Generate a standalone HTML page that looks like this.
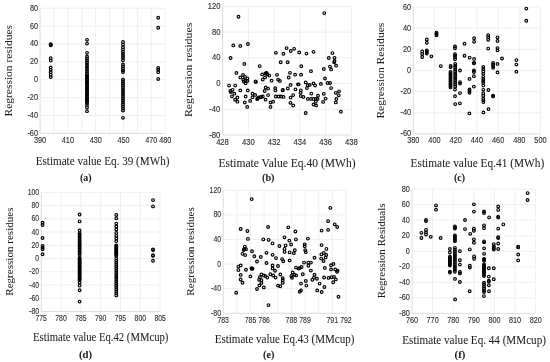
<!DOCTYPE html><html><head><meta charset="utf-8"><title>Regression residues</title><style>html,body{margin:0;padding:0;background:#fff;}svg{display:block;}.t{font-family:"Liberation Sans",Arial,sans-serif;font-size:8.2px;fill:#2e2e2e;stroke:#2e2e2e;stroke-width:0.12px;}.s{font-family:"Liberation Serif","Times New Roman",serif;fill:#1e1e1e;stroke:#1e1e1e;stroke-width:0.05px;}</style></head><body>
<svg width="550" height="362" viewBox="0 0 550 362">
<rect width="550" height="362" fill="#fff"/>
<path d="M54 8.2V133.4M67.9 8.2V133.4M81.8 8.2V133.4M95.7 8.2V133.4M109.6 8.2V133.4M123.5 8.2V133.4M137.4 8.2V133.4M151.3 8.2V133.4M165.2 8.2V133.4M40.1 115.51H165.2M40.1 97.63H165.2M40.1 79.74H165.2M40.1 61.86H165.2M40.1 43.97H165.2M40.1 26.09H165.2M40.1 8.2H165.2" stroke="#efefef" stroke-width="1" fill="none"/>
<path d="M40.1 8.2V133.4H165.2" stroke="#dddddd" stroke-width="1" fill="none"/>
<text class="t" x="38" y="135.9" text-anchor="end" textLength="10.61" lengthAdjust="spacingAndGlyphs">-60</text>
<text class="t" x="38" y="118.01" text-anchor="end" textLength="10.61" lengthAdjust="spacingAndGlyphs">-40</text>
<text class="t" x="38" y="100.13" text-anchor="end" textLength="10.61" lengthAdjust="spacingAndGlyphs">-20</text>
<text class="t" x="38" y="82.24" text-anchor="end" textLength="4.05" lengthAdjust="spacingAndGlyphs">0</text>
<text class="t" x="38" y="64.36" text-anchor="end" textLength="8.1" lengthAdjust="spacingAndGlyphs">20</text>
<text class="t" x="38" y="46.47" text-anchor="end" textLength="8.1" lengthAdjust="spacingAndGlyphs">40</text>
<text class="t" x="38" y="28.59" text-anchor="end" textLength="8.1" lengthAdjust="spacingAndGlyphs">60</text>
<text class="t" x="38" y="10.7" text-anchor="end" textLength="8.1" lengthAdjust="spacingAndGlyphs">80</text>
<text class="t" x="40.1" y="142.9" text-anchor="middle" textLength="12.15" lengthAdjust="spacingAndGlyphs">390</text>
<text class="t" x="67.9" y="142.9" text-anchor="middle" textLength="12.15" lengthAdjust="spacingAndGlyphs">410</text>
<text class="t" x="95.7" y="142.9" text-anchor="middle" textLength="12.15" lengthAdjust="spacingAndGlyphs">430</text>
<text class="t" x="123.5" y="142.9" text-anchor="middle" textLength="12.15" lengthAdjust="spacingAndGlyphs">450</text>
<text class="t" x="151.3" y="142.9" text-anchor="middle" textLength="12.15" lengthAdjust="spacingAndGlyphs">470</text>
<text class="t" x="165.2" y="142.9" text-anchor="middle" textLength="12.15" lengthAdjust="spacingAndGlyphs">480</text>
<text class="s" font-size="11.2" transform="translate(11.8 116.5) rotate(-90)" x="0" y="0" textLength="91.6" lengthAdjust="spacingAndGlyphs">Regression residues</text>
<text class="s" font-size="11.5" x="35.7" y="165" textLength="133.8" lengthAdjust="spacingAndGlyphs">Estimate value Eq. 39 (MWh)</text>
<text class="s" font-size="10.5" font-weight="bold" x="80" y="180.6" textLength="11.6" lengthAdjust="spacingAndGlyphs">(a)</text>
<g fill="none" stroke="#000" stroke-width="1.15"><circle cx="50.7" cy="44.2" r="1.35"/><circle cx="50.7" cy="44.7" r="1.35"/><circle cx="50.7" cy="45.2" r="1.35"/><circle cx="50.7" cy="58.2" r="1.35"/><circle cx="50.7" cy="60.6" r="1.35"/><circle cx="50.7" cy="67.4" r="1.35"/><circle cx="50.7" cy="69.8" r="1.35"/><circle cx="50.7" cy="72.2" r="1.35"/><circle cx="50.7" cy="74.6" r="1.35"/><circle cx="50.7" cy="77" r="1.35"/><circle cx="87" cy="39.8" r="1.35"/><circle cx="87" cy="43.6" r="1.35"/><circle cx="87" cy="52.8" r="1.35"/><circle cx="87" cy="56.5" r="1.35"/><circle cx="87" cy="58.4" r="1.35"/><circle cx="87" cy="60.3" r="1.35"/><circle cx="87" cy="62.2" r="1.35"/><circle cx="87" cy="64.1" r="1.35"/><circle cx="87" cy="66" r="1.35"/><circle cx="87" cy="67.9" r="1.35"/><circle cx="87" cy="69.8" r="1.35"/><circle cx="87" cy="71.7" r="1.35"/><circle cx="87" cy="73.6" r="1.35"/><circle cx="87" cy="75.5" r="1.35"/><circle cx="87" cy="76.5" r="1.35"/><circle cx="87" cy="77.7" r="1.35"/><circle cx="87" cy="78.91" r="1.35"/><circle cx="87" cy="80.11" r="1.35"/><circle cx="87" cy="81.32" r="1.35"/><circle cx="87" cy="82.52" r="1.35"/><circle cx="87" cy="83.73" r="1.35"/><circle cx="87" cy="84.93" r="1.35"/><circle cx="87" cy="86.14" r="1.35"/><circle cx="87" cy="87.34" r="1.35"/><circle cx="87" cy="88.55" r="1.35"/><circle cx="87" cy="89.75" r="1.35"/><circle cx="87" cy="90.95" r="1.35"/><circle cx="87" cy="92.16" r="1.35"/><circle cx="87" cy="93.36" r="1.35"/><circle cx="87" cy="94.57" r="1.35"/><circle cx="87" cy="95.77" r="1.35"/><circle cx="87" cy="96.98" r="1.35"/><circle cx="87" cy="98.18" r="1.35"/><circle cx="87" cy="99.39" r="1.35"/><circle cx="87" cy="100.59" r="1.35"/><circle cx="87" cy="101.8" r="1.35"/><circle cx="87" cy="103" r="1.35"/><circle cx="87" cy="105" r="1.35"/><circle cx="87" cy="107.5" r="1.35"/><circle cx="87" cy="111.2" r="1.35"/><circle cx="123" cy="41.9" r="1.35"/><circle cx="123" cy="44.6" r="1.35"/><circle cx="123" cy="47.2" r="1.35"/><circle cx="123" cy="49.6" r="1.35"/><circle cx="123" cy="51.8" r="1.35"/><circle cx="123" cy="53.9" r="1.35"/><circle cx="123" cy="55.9" r="1.35"/><circle cx="123" cy="57.8" r="1.35"/><circle cx="123" cy="60.2" r="1.35"/><circle cx="123" cy="64.4" r="1.35"/><circle cx="123" cy="66.4" r="1.35"/><circle cx="123" cy="68.4" r="1.35"/><circle cx="123" cy="70.4" r="1.35"/><circle cx="123" cy="72" r="1.35"/><circle cx="123" cy="79.3" r="1.35"/><circle cx="123" cy="81.25" r="1.35"/><circle cx="123" cy="83.2" r="1.35"/><circle cx="123" cy="85.15" r="1.35"/><circle cx="123" cy="87.1" r="1.35"/><circle cx="123" cy="89.05" r="1.35"/><circle cx="123" cy="91" r="1.35"/><circle cx="123" cy="92.95" r="1.35"/><circle cx="123" cy="94.9" r="1.35"/><circle cx="123" cy="96.85" r="1.35"/><circle cx="123" cy="98.8" r="1.35"/><circle cx="123" cy="100.75" r="1.35"/><circle cx="123" cy="102.7" r="1.35"/><circle cx="123" cy="104.65" r="1.35"/><circle cx="123" cy="106.6" r="1.35"/><circle cx="123" cy="108.55" r="1.35"/><circle cx="123" cy="110.5" r="1.35"/><circle cx="123" cy="117.8" r="1.35"/><circle cx="158.2" cy="17.7" r="1.35"/><circle cx="158.2" cy="27.7" r="1.35"/><circle cx="158.2" cy="67.9" r="1.35"/><circle cx="158.2" cy="69.8" r="1.35"/><circle cx="158.2" cy="72.2" r="1.35"/><circle cx="158.2" cy="79" r="1.35"/></g>
<path d="M248.28 6.4V135M274.06 6.4V135M299.84 6.4V135M325.62 6.4V135M351.4 6.4V135M222.5 109.28H351.4M222.5 83.56H351.4M222.5 57.84H351.4M222.5 32.12H351.4M222.5 6.4H351.4" stroke="#efefef" stroke-width="1" fill="none"/>
<path d="M222.5 6.4V135H351.4" stroke="#dddddd" stroke-width="1" fill="none"/>
<text class="t" x="220.4" y="137.5" text-anchor="end" textLength="11.13" lengthAdjust="spacingAndGlyphs">-80</text>
<text class="t" x="220.4" y="111.78" text-anchor="end" textLength="11.13" lengthAdjust="spacingAndGlyphs">-40</text>
<text class="t" x="220.4" y="86.06" text-anchor="end" textLength="4.25" lengthAdjust="spacingAndGlyphs">0</text>
<text class="t" x="220.4" y="60.34" text-anchor="end" textLength="8.5" lengthAdjust="spacingAndGlyphs">40</text>
<text class="t" x="220.4" y="34.62" text-anchor="end" textLength="8.5" lengthAdjust="spacingAndGlyphs">80</text>
<text class="t" x="220.4" y="8.9" text-anchor="end" textLength="12.75" lengthAdjust="spacingAndGlyphs">120</text>
<text class="t" x="222.5" y="144.5" text-anchor="middle" textLength="12.75" lengthAdjust="spacingAndGlyphs">428</text>
<text class="t" x="248.28" y="144.5" text-anchor="middle" textLength="12.75" lengthAdjust="spacingAndGlyphs">430</text>
<text class="t" x="274.06" y="144.5" text-anchor="middle" textLength="12.75" lengthAdjust="spacingAndGlyphs">432</text>
<text class="t" x="299.84" y="144.5" text-anchor="middle" textLength="12.75" lengthAdjust="spacingAndGlyphs">434</text>
<text class="t" x="325.62" y="144.5" text-anchor="middle" textLength="12.75" lengthAdjust="spacingAndGlyphs">436</text>
<text class="t" x="351.4" y="144.5" text-anchor="middle" textLength="12.75" lengthAdjust="spacingAndGlyphs">438</text>
<text class="s" font-size="11.2" transform="translate(192 117.1) rotate(-90)" x="0" y="0" textLength="94.4" lengthAdjust="spacingAndGlyphs">Regression residues</text>
<text class="s" font-size="11.5" x="218.5" y="167.2" textLength="137.1" lengthAdjust="spacingAndGlyphs">Estimate Value Eq.40 (MWh)</text>
<text class="s" font-size="10.5" font-weight="bold" x="262" y="181" textLength="12.5" lengthAdjust="spacingAndGlyphs">(b)</text>
<g fill="none" stroke="#000" stroke-width="1.15"><circle cx="238.5" cy="16.7" r="1.35"/><circle cx="233.3" cy="45.4" r="1.35"/><circle cx="240.3" cy="45.9" r="1.35"/><circle cx="247.9" cy="44" r="1.35"/><circle cx="230.6" cy="58" r="1.35"/><circle cx="244.4" cy="63.9" r="1.35"/><circle cx="259.7" cy="66.1" r="1.35"/><circle cx="275.9" cy="52.8" r="1.35"/><circle cx="283.4" cy="53.7" r="1.35"/><circle cx="286.6" cy="48.1" r="1.35"/><circle cx="280.7" cy="62.2" r="1.35"/><circle cx="287.7" cy="62.2" r="1.35"/><circle cx="324.3" cy="13.1" r="1.35"/><circle cx="290.7" cy="51" r="1.35"/><circle cx="294.1" cy="48.8" r="1.35"/><circle cx="299.2" cy="52.4" r="1.35"/><circle cx="306.5" cy="53.6" r="1.35"/><circle cx="313.5" cy="51.8" r="1.35"/><circle cx="301.3" cy="66.2" r="1.35"/><circle cx="332.4" cy="53.1" r="1.35"/><circle cx="328.8" cy="58" r="1.35"/><circle cx="334.5" cy="57.8" r="1.35"/><circle cx="334.5" cy="61" r="1.35"/><circle cx="330" cy="66.6" r="1.35"/><circle cx="336.1" cy="65.7" r="1.35"/><circle cx="323.8" cy="69" r="1.35"/><circle cx="331.1" cy="69.4" r="1.35"/><circle cx="334.2" cy="62.3" r="1.35"/><circle cx="311" cy="71.2" r="1.35"/><circle cx="236.4" cy="72.9" r="1.35"/><circle cx="240.3" cy="77.4" r="1.35"/><circle cx="243" cy="75" r="1.35"/><circle cx="245" cy="76.8" r="1.35"/><circle cx="247.4" cy="78.5" r="1.35"/><circle cx="243.3" cy="79.7" r="1.35"/><circle cx="245.6" cy="80.9" r="1.35"/><circle cx="243.9" cy="81.5" r="1.35"/><circle cx="245.6" cy="83.3" r="1.35"/><circle cx="247.4" cy="80.9" r="1.35"/><circle cx="255.5" cy="81.5" r="1.35"/><circle cx="255.9" cy="81.9" r="1.35"/><circle cx="262.2" cy="74.4" r="1.35"/><circle cx="266" cy="73.2" r="1.35"/><circle cx="265.3" cy="73.6" r="1.35"/><circle cx="266.6" cy="72.8" r="1.35"/><circle cx="267.5" cy="74.4" r="1.35"/><circle cx="265.1" cy="77.4" r="1.35"/><circle cx="269.3" cy="75.6" r="1.35"/><circle cx="262.8" cy="79.5" r="1.35"/><circle cx="271.6" cy="80.7" r="1.35"/><circle cx="277" cy="74.8" r="1.35"/><circle cx="278.1" cy="79.7" r="1.35"/><circle cx="279.9" cy="80.9" r="1.35"/><circle cx="229.1" cy="85.6" r="1.35"/><circle cx="235.2" cy="85.6" r="1.35"/><circle cx="230.3" cy="91" r="1.35"/><circle cx="232.6" cy="89.8" r="1.35"/><circle cx="230.9" cy="92.1" r="1.35"/><circle cx="240.3" cy="90.4" r="1.35"/><circle cx="247.8" cy="90.4" r="1.35"/><circle cx="234.4" cy="93.7" r="1.35"/><circle cx="232" cy="96.3" r="1.35"/><circle cx="237.4" cy="97.5" r="1.35"/><circle cx="245.6" cy="96.5" r="1.35"/><circle cx="252.5" cy="93.7" r="1.35"/><circle cx="255.1" cy="94.9" r="1.35"/><circle cx="252.5" cy="97.2" r="1.35"/><circle cx="258.6" cy="97.5" r="1.35"/><circle cx="261" cy="96.9" r="1.35"/><circle cx="262.8" cy="96.5" r="1.35"/><circle cx="265.7" cy="87.4" r="1.35"/><circle cx="268.1" cy="88.6" r="1.35"/><circle cx="264.6" cy="91" r="1.35"/><circle cx="268.1" cy="95.1" r="1.35"/><circle cx="275.2" cy="88.2" r="1.35"/><circle cx="275.4" cy="90.4" r="1.35"/><circle cx="282.9" cy="90" r="1.35"/><circle cx="282.6" cy="90.3" r="1.35"/><circle cx="275.8" cy="96.5" r="1.35"/><circle cx="278.7" cy="96.5" r="1.35"/><circle cx="281.1" cy="96.5" r="1.35"/><circle cx="283.5" cy="96.9" r="1.35"/><circle cx="235.1" cy="99.7" r="1.35"/><circle cx="237.4" cy="101.7" r="1.35"/><circle cx="244.8" cy="102.5" r="1.35"/><circle cx="247.2" cy="106.9" r="1.35"/><circle cx="250.2" cy="100.9" r="1.35"/><circle cx="257.6" cy="98.5" r="1.35"/><circle cx="257.2" cy="99" r="1.35"/><circle cx="260.6" cy="97.3" r="1.35"/><circle cx="265.6" cy="99.7" r="1.35"/><circle cx="270.5" cy="102.5" r="1.35"/><circle cx="273.1" cy="101.7" r="1.35"/><circle cx="270.5" cy="106.9" r="1.35"/><circle cx="290" cy="72.8" r="1.35"/><circle cx="295.1" cy="74.7" r="1.35"/><circle cx="301.1" cy="74.7" r="1.35"/><circle cx="288.7" cy="77.5" r="1.35"/><circle cx="325" cy="78.5" r="1.35"/><circle cx="305.7" cy="82.4" r="1.35"/><circle cx="307.8" cy="85.2" r="1.35"/><circle cx="309.7" cy="84.9" r="1.35"/><circle cx="313.5" cy="83.4" r="1.35"/><circle cx="315.1" cy="85.5" r="1.35"/><circle cx="306.9" cy="88.1" r="1.35"/><circle cx="320.9" cy="83.9" r="1.35"/><circle cx="327.5" cy="83" r="1.35"/><circle cx="330.1" cy="83" r="1.35"/><circle cx="331.1" cy="88.1" r="1.35"/><circle cx="290.6" cy="84.9" r="1.35"/><circle cx="298" cy="84.3" r="1.35"/><circle cx="298.6" cy="84.3" r="1.35"/><circle cx="287.8" cy="88.5" r="1.35"/><circle cx="295.5" cy="89.4" r="1.35"/><circle cx="300.8" cy="90.3" r="1.35"/><circle cx="300.6" cy="92.8" r="1.35"/><circle cx="293.2" cy="95.1" r="1.35"/><circle cx="290.6" cy="97.6" r="1.35"/><circle cx="300.8" cy="96.1" r="1.35"/><circle cx="303.4" cy="97" r="1.35"/><circle cx="311.3" cy="93.6" r="1.35"/><circle cx="307.8" cy="98.9" r="1.35"/><circle cx="311" cy="98.9" r="1.35"/><circle cx="313.5" cy="98.9" r="1.35"/><circle cx="318" cy="95.7" r="1.35"/><circle cx="317.6" cy="98.9" r="1.35"/><circle cx="323.7" cy="93.8" r="1.35"/><circle cx="325.6" cy="98.6" r="1.35"/><circle cx="335.8" cy="92.8" r="1.35"/><circle cx="339" cy="91.3" r="1.35"/><circle cx="338.7" cy="95.3" r="1.35"/><circle cx="336.4" cy="98.9" r="1.35"/><circle cx="290.4" cy="102.8" r="1.35"/><circle cx="293.2" cy="105.4" r="1.35"/><circle cx="315.8" cy="99" r="1.35"/><circle cx="315.8" cy="101.5" r="1.35"/><circle cx="313.5" cy="104.5" r="1.35"/><circle cx="316.1" cy="105.4" r="1.35"/><circle cx="323.1" cy="101.9" r="1.35"/><circle cx="305.7" cy="113" r="1.35"/><circle cx="335.8" cy="102.4" r="1.35"/><circle cx="340.9" cy="111.7" r="1.35"/></g>
<path d="M434.5 7V133.9M455.7 7V133.9M476.9 7V133.9M498.1 7V133.9M519.3 7V133.9M540.5 7V133.9M413.3 112.75H540.5M413.3 91.6H540.5M413.3 70.45H540.5M413.3 49.3H540.5M413.3 28.15H540.5M413.3 7H540.5" stroke="#efefef" stroke-width="1" fill="none"/>
<path d="M413.3 7V133.9H540.5" stroke="#dddddd" stroke-width="1" fill="none"/>
<text class="t" x="411.2" y="136.4" text-anchor="end" textLength="10.74" lengthAdjust="spacingAndGlyphs">-60</text>
<text class="t" x="411.2" y="115.25" text-anchor="end" textLength="10.74" lengthAdjust="spacingAndGlyphs">-40</text>
<text class="t" x="411.2" y="94.1" text-anchor="end" textLength="10.74" lengthAdjust="spacingAndGlyphs">-20</text>
<text class="t" x="411.2" y="72.95" text-anchor="end" textLength="4.1" lengthAdjust="spacingAndGlyphs">0</text>
<text class="t" x="411.2" y="51.8" text-anchor="end" textLength="8.2" lengthAdjust="spacingAndGlyphs">20</text>
<text class="t" x="411.2" y="30.65" text-anchor="end" textLength="8.2" lengthAdjust="spacingAndGlyphs">40</text>
<text class="t" x="411.2" y="9.5" text-anchor="end" textLength="8.2" lengthAdjust="spacingAndGlyphs">60</text>
<text class="t" x="413.3" y="143.4" text-anchor="middle" textLength="12.3" lengthAdjust="spacingAndGlyphs">380</text>
<text class="t" x="434.5" y="143.4" text-anchor="middle" textLength="12.3" lengthAdjust="spacingAndGlyphs">400</text>
<text class="t" x="455.7" y="143.4" text-anchor="middle" textLength="12.3" lengthAdjust="spacingAndGlyphs">420</text>
<text class="t" x="476.9" y="143.4" text-anchor="middle" textLength="12.3" lengthAdjust="spacingAndGlyphs">440</text>
<text class="t" x="498.1" y="143.4" text-anchor="middle" textLength="12.3" lengthAdjust="spacingAndGlyphs">460</text>
<text class="t" x="519.3" y="143.4" text-anchor="middle" textLength="12.3" lengthAdjust="spacingAndGlyphs">480</text>
<text class="t" x="540.5" y="143.4" text-anchor="middle" textLength="12.3" lengthAdjust="spacingAndGlyphs">500</text>
<text class="s" font-size="11.2" transform="translate(384.3 118.6) rotate(-90)" x="0" y="0" textLength="95.9" lengthAdjust="spacingAndGlyphs">Regression Residues</text>
<text class="s" font-size="11.5" x="410.6" y="166.7" textLength="133.7" lengthAdjust="spacingAndGlyphs">Estimate value Eq.41 (MWh)</text>
<text class="s" font-size="10.5" font-weight="bold" x="454" y="181" textLength="11" lengthAdjust="spacingAndGlyphs">(c)</text>
<g fill="none" stroke="#000" stroke-width="1.15"><circle cx="436.5" cy="32.6" r="1.35"/><circle cx="436.5" cy="34" r="1.35"/><circle cx="436.5" cy="35.2" r="1.35"/><circle cx="426.8" cy="39.4" r="1.35"/><circle cx="426.8" cy="42.7" r="1.35"/><circle cx="422.2" cy="51.5" r="1.35"/><circle cx="422.2" cy="54" r="1.35"/><circle cx="422.2" cy="57" r="1.35"/><circle cx="426.8" cy="50.5" r="1.35"/><circle cx="426.8" cy="52" r="1.35"/><circle cx="426.8" cy="53.5" r="1.35"/><circle cx="431.4" cy="56.3" r="1.35"/><circle cx="440.8" cy="66.1" r="1.35"/><circle cx="464.5" cy="43.7" r="1.35"/><circle cx="464.5" cy="55.7" r="1.35"/><circle cx="469.6" cy="57.6" r="1.35"/><circle cx="474.1" cy="38.2" r="1.35"/><circle cx="474.1" cy="41.8" r="1.35"/><circle cx="474.1" cy="58.9" r="1.35"/><circle cx="474.1" cy="62.8" r="1.35"/><circle cx="455" cy="46.5" r="1.35"/><circle cx="455" cy="48.2" r="1.35"/><circle cx="455" cy="54.2" r="1.35"/><circle cx="455" cy="55.8" r="1.35"/><circle cx="455" cy="57.4" r="1.35"/><circle cx="455" cy="59.2" r="1.35"/><circle cx="450.6" cy="65.8" r="1.35"/><circle cx="450.6" cy="67.2" r="1.35"/><circle cx="526.3" cy="8.6" r="1.35"/><circle cx="526.3" cy="20.8" r="1.35"/><circle cx="488.2" cy="35.2" r="1.35"/><circle cx="488.2" cy="37.3" r="1.35"/><circle cx="488.2" cy="39.7" r="1.35"/><circle cx="497.5" cy="37.3" r="1.35"/><circle cx="497.5" cy="40.9" r="1.35"/><circle cx="488.2" cy="48.6" r="1.35"/><circle cx="497.5" cy="48.1" r="1.35"/><circle cx="497.5" cy="50.3" r="1.35"/><circle cx="502" cy="58.5" r="1.35"/><circle cx="493.1" cy="62.8" r="1.35"/><circle cx="493.1" cy="64.5" r="1.35"/><circle cx="493.1" cy="66.1" r="1.35"/><circle cx="493.1" cy="67.8" r="1.35"/><circle cx="497.5" cy="63.9" r="1.35"/><circle cx="516.4" cy="60.1" r="1.35"/><circle cx="516.4" cy="64.6" r="1.35"/><circle cx="483.3" cy="67" r="1.35"/><circle cx="460" cy="70.5" r="1.35"/><circle cx="460" cy="82.1" r="1.35"/><circle cx="460" cy="83.6" r="1.35"/><circle cx="460" cy="93.1" r="1.35"/><circle cx="469.5" cy="78.9" r="1.35"/><circle cx="473.9" cy="63.2" r="1.35"/><circle cx="473.9" cy="70.5" r="1.35"/><circle cx="473.9" cy="72" r="1.35"/><circle cx="473.9" cy="76.2" r="1.35"/><circle cx="473.9" cy="86.6" r="1.35"/><circle cx="469.5" cy="89.4" r="1.35"/><circle cx="469.5" cy="91" r="1.35"/><circle cx="469.5" cy="92.8" r="1.35"/><circle cx="455" cy="89.6" r="1.35"/><circle cx="455" cy="96.2" r="1.35"/><circle cx="455.2" cy="104.1" r="1.35"/><circle cx="459.9" cy="103.3" r="1.35"/><circle cx="469.4" cy="113.4" r="1.35"/><circle cx="497.5" cy="72.4" r="1.35"/><circle cx="516.4" cy="71.7" r="1.35"/><circle cx="488.4" cy="90" r="1.35"/><circle cx="493.1" cy="95.6" r="1.35"/><circle cx="493.1" cy="96.4" r="1.35"/><circle cx="483.4" cy="100.3" r="1.35"/><circle cx="483.4" cy="102.1" r="1.35"/><circle cx="488.5" cy="109.2" r="1.35"/><circle cx="483.4" cy="112.4" r="1.35"/><circle cx="450.5" cy="71.8" r="1.35"/><circle cx="450.5" cy="73.22" r="1.35"/><circle cx="450.5" cy="74.64" r="1.35"/><circle cx="450.5" cy="76.05" r="1.35"/><circle cx="450.5" cy="77.47" r="1.35"/><circle cx="450.5" cy="78.89" r="1.35"/><circle cx="450.5" cy="80.31" r="1.35"/><circle cx="450.5" cy="81.73" r="1.35"/><circle cx="450.5" cy="83.15" r="1.35"/><circle cx="450.5" cy="84.56" r="1.35"/><circle cx="450.5" cy="85.98" r="1.35"/><circle cx="450.5" cy="87.4" r="1.35"/><circle cx="455.2" cy="64" r="1.35"/><circle cx="455.2" cy="65.87" r="1.35"/><circle cx="455.2" cy="67.73" r="1.35"/><circle cx="455.2" cy="69.6" r="1.35"/><circle cx="455.2" cy="71.47" r="1.35"/><circle cx="455.2" cy="73.33" r="1.35"/><circle cx="455.2" cy="75.2" r="1.35"/><circle cx="455.2" cy="77.07" r="1.35"/><circle cx="455.2" cy="78.93" r="1.35"/><circle cx="455.2" cy="80.8" r="1.35"/><circle cx="455.2" cy="82.67" r="1.35"/><circle cx="455.2" cy="84.53" r="1.35"/><circle cx="455.2" cy="86.4" r="1.35"/><circle cx="483.3" cy="69.1" r="1.35"/><circle cx="483.3" cy="71.5" r="1.35"/><circle cx="483.3" cy="73.8" r="1.35"/><circle cx="483.3" cy="76.8" r="1.35"/><circle cx="483.3" cy="79.1" r="1.35"/><circle cx="483.3" cy="80.9" r="1.35"/><circle cx="483.3" cy="82.7" r="1.35"/><circle cx="483.3" cy="85.6" r="1.35"/><circle cx="483.3" cy="89.8" r="1.35"/><circle cx="483.3" cy="93.3" r="1.35"/><circle cx="483.3" cy="95.7" r="1.35"/><circle cx="483.3" cy="98.6" r="1.35"/></g>
<path d="M61.02 192.3V311.5M80.83 192.3V311.5M100.65 192.3V311.5M120.47 192.3V311.5M140.28 192.3V311.5M160.1 192.3V311.5M41.2 298.26H160.1M41.2 285.01H160.1M41.2 271.77H160.1M41.2 258.52H160.1M41.2 245.28H160.1M41.2 232.03H160.1M41.2 218.79H160.1M41.2 205.54H160.1M41.2 192.3H160.1" stroke="#efefef" stroke-width="1" fill="none"/>
<path d="M41.2 192.3V311.5H160.1" stroke="#dddddd" stroke-width="1" fill="none"/>
<text class="t" x="39.1" y="314" text-anchor="end" textLength="9.96" lengthAdjust="spacingAndGlyphs">-80</text>
<text class="t" x="39.1" y="300.76" text-anchor="end" textLength="9.96" lengthAdjust="spacingAndGlyphs">-60</text>
<text class="t" x="39.1" y="287.51" text-anchor="end" textLength="9.96" lengthAdjust="spacingAndGlyphs">-40</text>
<text class="t" x="39.1" y="274.27" text-anchor="end" textLength="9.96" lengthAdjust="spacingAndGlyphs">-20</text>
<text class="t" x="39.1" y="261.02" text-anchor="end" textLength="3.8" lengthAdjust="spacingAndGlyphs">0</text>
<text class="t" x="39.1" y="247.78" text-anchor="end" textLength="7.6" lengthAdjust="spacingAndGlyphs">20</text>
<text class="t" x="39.1" y="234.53" text-anchor="end" textLength="7.6" lengthAdjust="spacingAndGlyphs">40</text>
<text class="t" x="39.1" y="221.29" text-anchor="end" textLength="7.6" lengthAdjust="spacingAndGlyphs">60</text>
<text class="t" x="39.1" y="208.04" text-anchor="end" textLength="7.6" lengthAdjust="spacingAndGlyphs">80</text>
<text class="t" x="39.1" y="194.8" text-anchor="end" textLength="11.4" lengthAdjust="spacingAndGlyphs">100</text>
<text class="t" x="41.2" y="321" text-anchor="middle" textLength="11.4" lengthAdjust="spacingAndGlyphs">775</text>
<text class="t" x="61.02" y="321" text-anchor="middle" textLength="11.4" lengthAdjust="spacingAndGlyphs">780</text>
<text class="t" x="80.83" y="321" text-anchor="middle" textLength="11.4" lengthAdjust="spacingAndGlyphs">785</text>
<text class="t" x="100.65" y="321" text-anchor="middle" textLength="11.4" lengthAdjust="spacingAndGlyphs">790</text>
<text class="t" x="120.47" y="321" text-anchor="middle" textLength="11.4" lengthAdjust="spacingAndGlyphs">795</text>
<text class="t" x="140.28" y="321" text-anchor="middle" textLength="11.4" lengthAdjust="spacingAndGlyphs">800</text>
<text class="t" x="160.1" y="321" text-anchor="middle" textLength="11.4" lengthAdjust="spacingAndGlyphs">805</text>
<text class="s" font-size="11.2" transform="translate(13.3 295.7) rotate(-90)" x="0" y="0" textLength="88.2" lengthAdjust="spacingAndGlyphs">Regression residues</text>
<text class="s" font-size="11.5" x="33.1" y="341.2" textLength="135.3" lengthAdjust="spacingAndGlyphs">Estimate value Eq.42 (MMcup)</text>
<text class="s" font-size="10.5" font-weight="bold" x="78.9" y="358" textLength="13.1" lengthAdjust="spacingAndGlyphs">(d)</text>
<g fill="none" stroke="#000" stroke-width="1.15"><circle cx="42.6" cy="222.7" r="1.35"/><circle cx="42.6" cy="225" r="1.35"/><circle cx="42.6" cy="238" r="1.35"/><circle cx="42.6" cy="245.8" r="1.35"/><circle cx="42.6" cy="247.5" r="1.35"/><circle cx="42.6" cy="249.2" r="1.35"/><circle cx="42.6" cy="254.2" r="1.35"/><circle cx="79.6" cy="214.5" r="1.35"/><circle cx="79.6" cy="221.4" r="1.35"/><circle cx="79.6" cy="230.5" r="1.35"/><circle cx="79.6" cy="233.3" r="1.35"/><circle cx="79.6" cy="234.82" r="1.35"/><circle cx="79.6" cy="236.34" r="1.35"/><circle cx="79.6" cy="237.86" r="1.35"/><circle cx="79.6" cy="239.39" r="1.35"/><circle cx="79.6" cy="240.91" r="1.35"/><circle cx="79.6" cy="242.43" r="1.35"/><circle cx="79.6" cy="243.95" r="1.35"/><circle cx="79.6" cy="245.47" r="1.35"/><circle cx="79.6" cy="246.99" r="1.35"/><circle cx="79.6" cy="248.51" r="1.35"/><circle cx="79.6" cy="250.04" r="1.35"/><circle cx="79.6" cy="251.56" r="1.35"/><circle cx="79.6" cy="253.08" r="1.35"/><circle cx="79.6" cy="254.6" r="1.35"/><circle cx="79.6" cy="257.6" r="1.35"/><circle cx="79.6" cy="258.68" r="1.35"/><circle cx="79.6" cy="259.76" r="1.35"/><circle cx="79.6" cy="260.84" r="1.35"/><circle cx="79.6" cy="261.92" r="1.35"/><circle cx="79.6" cy="263" r="1.35"/><circle cx="79.6" cy="264.09" r="1.35"/><circle cx="79.6" cy="265.17" r="1.35"/><circle cx="79.6" cy="266.25" r="1.35"/><circle cx="79.6" cy="267.33" r="1.35"/><circle cx="79.6" cy="268.41" r="1.35"/><circle cx="79.6" cy="269.49" r="1.35"/><circle cx="79.6" cy="270.57" r="1.35"/><circle cx="79.6" cy="271.65" r="1.35"/><circle cx="79.6" cy="272.73" r="1.35"/><circle cx="79.6" cy="273.81" r="1.35"/><circle cx="79.6" cy="274.9" r="1.35"/><circle cx="79.6" cy="275.98" r="1.35"/><circle cx="79.6" cy="277.06" r="1.35"/><circle cx="79.6" cy="278.14" r="1.35"/><circle cx="79.6" cy="279.22" r="1.35"/><circle cx="79.6" cy="280.3" r="1.35"/><circle cx="79.6" cy="282.8" r="1.35"/><circle cx="79.6" cy="285.6" r="1.35"/><circle cx="79.6" cy="290.2" r="1.35"/><circle cx="79.6" cy="301.6" r="1.35"/><circle cx="116.3" cy="215" r="1.35"/><circle cx="116.3" cy="218.3" r="1.35"/><circle cx="116.3" cy="223.6" r="1.35"/><circle cx="116.3" cy="226.5" r="1.35"/><circle cx="116.3" cy="229.4" r="1.35"/><circle cx="116.3" cy="233" r="1.35"/><circle cx="116.3" cy="235.8" r="1.35"/><circle cx="116.3" cy="238.5" r="1.35"/><circle cx="116.3" cy="241.2" r="1.35"/><circle cx="116.3" cy="245.5" r="1.35"/><circle cx="116.3" cy="246.53" r="1.35"/><circle cx="116.3" cy="247.56" r="1.35"/><circle cx="116.3" cy="248.59" r="1.35"/><circle cx="116.3" cy="249.62" r="1.35"/><circle cx="116.3" cy="250.65" r="1.35"/><circle cx="116.3" cy="251.68" r="1.35"/><circle cx="116.3" cy="252.71" r="1.35"/><circle cx="116.3" cy="253.74" r="1.35"/><circle cx="116.3" cy="254.77" r="1.35"/><circle cx="116.3" cy="255.8" r="1.35"/><circle cx="116.3" cy="258.6" r="1.35"/><circle cx="116.3" cy="260.64" r="1.35"/><circle cx="116.3" cy="262.69" r="1.35"/><circle cx="116.3" cy="264.73" r="1.35"/><circle cx="116.3" cy="266.78" r="1.35"/><circle cx="116.3" cy="268.82" r="1.35"/><circle cx="116.3" cy="270.87" r="1.35"/><circle cx="116.3" cy="272.91" r="1.35"/><circle cx="116.3" cy="274.96" r="1.35"/><circle cx="116.3" cy="277" r="1.35"/><circle cx="116.3" cy="279.04" r="1.35"/><circle cx="116.3" cy="281.09" r="1.35"/><circle cx="116.3" cy="283.13" r="1.35"/><circle cx="116.3" cy="285.18" r="1.35"/><circle cx="116.3" cy="287.22" r="1.35"/><circle cx="116.3" cy="289.27" r="1.35"/><circle cx="116.3" cy="291.31" r="1.35"/><circle cx="116.3" cy="293.36" r="1.35"/><circle cx="116.3" cy="295.4" r="1.35"/><circle cx="153" cy="200.1" r="1.35"/><circle cx="153" cy="206.4" r="1.35"/><circle cx="153" cy="249.3" r="1.35"/><circle cx="153" cy="250.1" r="1.35"/><circle cx="153" cy="255.2" r="1.35"/><circle cx="153" cy="255.8" r="1.35"/><circle cx="153" cy="260.8" r="1.35"/></g>
<path d="M236.83 190.3V313.3M250.47 190.3V313.3M264.1 190.3V313.3M277.73 190.3V313.3M291.37 190.3V313.3M305 190.3V313.3M318.63 190.3V313.3M332.27 190.3V313.3M345.9 190.3V313.3M223.2 288.7H345.9M223.2 264.1H345.9M223.2 239.5H345.9M223.2 214.9H345.9M223.2 190.3H345.9" stroke="#efefef" stroke-width="1" fill="none"/>
<path d="M223.2 190.3V313.3H345.9" stroke="#dddddd" stroke-width="1" fill="none"/>
<text class="t" x="221.1" y="315.8" text-anchor="end" textLength="10.09" lengthAdjust="spacingAndGlyphs">-80</text>
<text class="t" x="221.1" y="291.2" text-anchor="end" textLength="10.09" lengthAdjust="spacingAndGlyphs">-40</text>
<text class="t" x="221.1" y="266.6" text-anchor="end" textLength="3.85" lengthAdjust="spacingAndGlyphs">0</text>
<text class="t" x="221.1" y="242" text-anchor="end" textLength="7.7" lengthAdjust="spacingAndGlyphs">40</text>
<text class="t" x="221.1" y="217.4" text-anchor="end" textLength="7.7" lengthAdjust="spacingAndGlyphs">80</text>
<text class="t" x="221.1" y="192.8" text-anchor="end" textLength="11.55" lengthAdjust="spacingAndGlyphs">120</text>
<text class="t" x="223.2" y="322.8" text-anchor="middle" textLength="11.55" lengthAdjust="spacingAndGlyphs">783</text>
<text class="t" x="250.47" y="322.8" text-anchor="middle" textLength="11.55" lengthAdjust="spacingAndGlyphs">785</text>
<text class="t" x="264.1" y="322.8" text-anchor="middle" textLength="11.55" lengthAdjust="spacingAndGlyphs">786</text>
<text class="t" x="291.37" y="322.8" text-anchor="middle" textLength="11.55" lengthAdjust="spacingAndGlyphs">788</text>
<text class="t" x="305" y="322.8" text-anchor="middle" textLength="11.55" lengthAdjust="spacingAndGlyphs">789</text>
<text class="t" x="332.27" y="322.8" text-anchor="middle" textLength="11.55" lengthAdjust="spacingAndGlyphs">791</text>
<text class="t" x="345.9" y="322.8" text-anchor="middle" textLength="11.55" lengthAdjust="spacingAndGlyphs">792</text>
<text class="s" font-size="11.2" transform="translate(193.6 295.7) rotate(-90)" x="0" y="0" textLength="88.5" lengthAdjust="spacingAndGlyphs">Regression residues</text>
<text class="s" font-size="11.5" x="214.7" y="342.9" textLength="139.8" lengthAdjust="spacingAndGlyphs">Estimate value Eq.43 (MMcup)</text>
<text class="s" font-size="10.5" font-weight="bold" x="263" y="357.6" textLength="11.5" lengthAdjust="spacingAndGlyphs">(e)</text>
<g fill="none" stroke="#000" stroke-width="1.15"><circle cx="251.7" cy="199.1" r="1.35"/><circle cx="240.7" cy="229" r="1.35"/><circle cx="247.4" cy="231" r="1.35"/><circle cx="247.9" cy="238.9" r="1.35"/><circle cx="268.1" cy="227" r="1.35"/><circle cx="263.3" cy="239.4" r="1.35"/><circle cx="268.6" cy="239.8" r="1.35"/><circle cx="272.5" cy="243.4" r="1.35"/><circle cx="279.4" cy="246" r="1.35"/><circle cx="284.5" cy="237.3" r="1.35"/><circle cx="288.3" cy="227.3" r="1.35"/><circle cx="244.8" cy="246.6" r="1.35"/><circle cx="285.6" cy="245.4" r="1.35"/><circle cx="244.3" cy="248.9" r="1.35"/><circle cx="246" cy="249.2" r="1.35"/><circle cx="243.7" cy="250" r="1.35"/><circle cx="252" cy="251.2" r="1.35"/><circle cx="242.5" cy="253.9" r="1.35"/><circle cx="245.2" cy="255.1" r="1.35"/><circle cx="254.3" cy="256.3" r="1.35"/><circle cx="260.8" cy="256.9" r="1.35"/><circle cx="266.5" cy="252.8" r="1.35"/><circle cx="272.6" cy="254.8" r="1.35"/><circle cx="276" cy="258.1" r="1.35"/><circle cx="284.5" cy="248.9" r="1.35"/><circle cx="284.5" cy="251.8" r="1.35"/><circle cx="282.1" cy="259.1" r="1.35"/><circle cx="283.3" cy="261.3" r="1.35"/><circle cx="257" cy="261.5" r="1.35"/><circle cx="266.5" cy="263" r="1.35"/><circle cx="272.6" cy="265.4" r="1.35"/><circle cx="278" cy="266" r="1.35"/><circle cx="272.6" cy="268.4" r="1.35"/><circle cx="275" cy="270.7" r="1.35"/><circle cx="238.4" cy="266.6" r="1.35"/><circle cx="240.7" cy="265.4" r="1.35"/><circle cx="238.4" cy="270.1" r="1.35"/><circle cx="246" cy="269.8" r="1.35"/><circle cx="251.4" cy="268.1" r="1.35"/><circle cx="252.6" cy="268.6" r="1.35"/><circle cx="251.9" cy="268.9" r="1.35"/><circle cx="240.7" cy="274.9" r="1.35"/><circle cx="250.4" cy="276.4" r="1.35"/><circle cx="240.6" cy="279.5" r="1.35"/><circle cx="261.4" cy="274.5" r="1.35"/><circle cx="263.8" cy="275.5" r="1.35"/><circle cx="265.6" cy="276.1" r="1.35"/><circle cx="259.9" cy="277.2" r="1.35"/><circle cx="267.3" cy="277.6" r="1.35"/><circle cx="270.3" cy="274.3" r="1.35"/><circle cx="273.2" cy="275.5" r="1.35"/><circle cx="275.6" cy="277.6" r="1.35"/><circle cx="280.3" cy="274.5" r="1.35"/><circle cx="282.7" cy="278.3" r="1.35"/><circle cx="242.5" cy="282.7" r="1.35"/><circle cx="236.2" cy="292.7" r="1.35"/><circle cx="259.1" cy="279.7" r="1.35"/><circle cx="261.4" cy="280.3" r="1.35"/><circle cx="261.4" cy="283" r="1.35"/><circle cx="259.4" cy="285.4" r="1.35"/><circle cx="257" cy="289" r="1.35"/><circle cx="263.8" cy="287.4" r="1.35"/><circle cx="282.7" cy="280.3" r="1.35"/><circle cx="282.7" cy="282.7" r="1.35"/><circle cx="278" cy="285.6" r="1.35"/><circle cx="280.3" cy="286.2" r="1.35"/><circle cx="268.5" cy="305.1" r="1.35"/><circle cx="330.3" cy="207.9" r="1.35"/><circle cx="328.1" cy="221.2" r="1.35"/><circle cx="334.7" cy="224.3" r="1.35"/><circle cx="337.2" cy="227" r="1.35"/><circle cx="321.6" cy="230.6" r="1.35"/><circle cx="328.1" cy="229.8" r="1.35"/><circle cx="295.4" cy="231.5" r="1.35"/><circle cx="289.3" cy="240.6" r="1.35"/><circle cx="295.9" cy="239.4" r="1.35"/><circle cx="307.9" cy="238.6" r="1.35"/><circle cx="291.1" cy="244.5" r="1.35"/><circle cx="304.7" cy="244.3" r="1.35"/><circle cx="304.7" cy="246.2" r="1.35"/><circle cx="321.6" cy="245.1" r="1.35"/><circle cx="326.4" cy="248.9" r="1.35"/><circle cx="294.8" cy="250.2" r="1.35"/><circle cx="289.6" cy="252.4" r="1.35"/><circle cx="293.8" cy="253.2" r="1.35"/><circle cx="305.2" cy="250.2" r="1.35"/><circle cx="305.8" cy="252.2" r="1.35"/><circle cx="321.4" cy="254.4" r="1.35"/><circle cx="323.8" cy="253" r="1.35"/><circle cx="326.2" cy="255" r="1.35"/><circle cx="325.6" cy="257.4" r="1.35"/><circle cx="321.2" cy="258.6" r="1.35"/><circle cx="323.6" cy="261" r="1.35"/><circle cx="314.5" cy="257.8" r="1.35"/><circle cx="289.6" cy="260.4" r="1.35"/><circle cx="304" cy="262.6" r="1.35"/><circle cx="308.2" cy="262.6" r="1.35"/><circle cx="310.9" cy="262.6" r="1.35"/><circle cx="308.4" cy="265.8" r="1.35"/><circle cx="301.6" cy="267" r="1.35"/><circle cx="299.8" cy="267.9" r="1.35"/><circle cx="296" cy="267.6" r="1.35"/><circle cx="298.6" cy="268.6" r="1.35"/><circle cx="310.9" cy="270.6" r="1.35"/><circle cx="324.8" cy="267.9" r="1.35"/><circle cx="331" cy="265.2" r="1.35"/><circle cx="333.4" cy="264" r="1.35"/><circle cx="331" cy="269.4" r="1.35"/><circle cx="335.2" cy="269.4" r="1.35"/><circle cx="337" cy="271.8" r="1.35"/><circle cx="337.6" cy="270.6" r="1.35"/><circle cx="302.8" cy="274.2" r="1.35"/><circle cx="292.6" cy="272.4" r="1.35"/><circle cx="291.4" cy="276" r="1.35"/><circle cx="294.4" cy="274.8" r="1.35"/><circle cx="296.2" cy="275.4" r="1.35"/><circle cx="292" cy="277.8" r="1.35"/><circle cx="314.5" cy="274.8" r="1.35"/><circle cx="314" cy="277.8" r="1.35"/><circle cx="316.9" cy="278.8" r="1.35"/><circle cx="324.1" cy="277.5" r="1.35"/><circle cx="328.5" cy="277.9" r="1.35"/><circle cx="331.6" cy="277.3" r="1.35"/><circle cx="334" cy="276.9" r="1.35"/><circle cx="335.8" cy="279.4" r="1.35"/><circle cx="301" cy="283.6" r="1.35"/><circle cx="305.8" cy="281" r="1.35"/><circle cx="306.4" cy="285.6" r="1.35"/><circle cx="299.8" cy="291.8" r="1.35"/><circle cx="301" cy="290.4" r="1.35"/><circle cx="312.4" cy="279.8" r="1.35"/><circle cx="319.6" cy="283.6" r="1.35"/><circle cx="333.2" cy="282.2" r="1.35"/><circle cx="324.4" cy="287" r="1.35"/><circle cx="317.2" cy="290.4" r="1.35"/><circle cx="321.7" cy="292" r="1.35"/><circle cx="338.5" cy="296.8" r="1.35"/></g>
<path d="M432.62 189.2V313.4M453.23 189.2V313.4M473.85 189.2V313.4M494.47 189.2V313.4M515.08 189.2V313.4M535.7 189.2V313.4M412 297.88H535.7M412 282.35H535.7M412 266.82H535.7M412 251.3H535.7M412 235.77H535.7M412 220.25H535.7M412 204.72H535.7M412 189.2H535.7" stroke="#efefef" stroke-width="1" fill="none"/>
<path d="M412 189.2V313.4H535.7" stroke="#dddddd" stroke-width="1" fill="none"/>
<text class="t" x="409.9" y="315.9" text-anchor="end" textLength="10.61" lengthAdjust="spacingAndGlyphs">-80</text>
<text class="t" x="409.9" y="300.38" text-anchor="end" textLength="10.61" lengthAdjust="spacingAndGlyphs">-60</text>
<text class="t" x="409.9" y="284.85" text-anchor="end" textLength="10.61" lengthAdjust="spacingAndGlyphs">-40</text>
<text class="t" x="409.9" y="269.32" text-anchor="end" textLength="10.61" lengthAdjust="spacingAndGlyphs">-20</text>
<text class="t" x="409.9" y="253.8" text-anchor="end" textLength="4.05" lengthAdjust="spacingAndGlyphs">0</text>
<text class="t" x="409.9" y="238.27" text-anchor="end" textLength="8.1" lengthAdjust="spacingAndGlyphs">20</text>
<text class="t" x="409.9" y="222.75" text-anchor="end" textLength="8.1" lengthAdjust="spacingAndGlyphs">40</text>
<text class="t" x="409.9" y="207.22" text-anchor="end" textLength="8.1" lengthAdjust="spacingAndGlyphs">60</text>
<text class="t" x="409.9" y="191.7" text-anchor="end" textLength="8.1" lengthAdjust="spacingAndGlyphs">80</text>
<text class="t" x="412" y="322.9" text-anchor="middle" textLength="12.15" lengthAdjust="spacingAndGlyphs">760</text>
<text class="t" x="432.62" y="322.9" text-anchor="middle" textLength="12.15" lengthAdjust="spacingAndGlyphs">770</text>
<text class="t" x="453.23" y="322.9" text-anchor="middle" textLength="12.15" lengthAdjust="spacingAndGlyphs">780</text>
<text class="t" x="473.85" y="322.9" text-anchor="middle" textLength="12.15" lengthAdjust="spacingAndGlyphs">790</text>
<text class="t" x="494.47" y="322.9" text-anchor="middle" textLength="12.15" lengthAdjust="spacingAndGlyphs">800</text>
<text class="t" x="515.08" y="322.9" text-anchor="middle" textLength="12.15" lengthAdjust="spacingAndGlyphs">810</text>
<text class="t" x="535.7" y="322.9" text-anchor="middle" textLength="12.15" lengthAdjust="spacingAndGlyphs">820</text>
<text class="s" font-size="11.2" transform="translate(384.6 298.2) rotate(-90)" x="0" y="0" textLength="94.8" lengthAdjust="spacingAndGlyphs">Regression Residuals</text>
<text class="s" font-size="11.5" x="402.3" y="344.2" textLength="143.6" lengthAdjust="spacingAndGlyphs">Estimate value Eq. 44 (MMcup)</text>
<text class="s" font-size="10.5" font-weight="bold" x="454.6" y="358" textLength="10.7" lengthAdjust="spacingAndGlyphs">(f)</text>
<g fill="none" stroke="#000" stroke-width="1.15"><circle cx="436" cy="205.4" r="1.35"/><circle cx="436" cy="209.7" r="1.35"/><circle cx="426" cy="219.9" r="1.35"/><circle cx="426" cy="221.1" r="1.35"/><circle cx="426" cy="229.9" r="1.35"/><circle cx="426" cy="232.3" r="1.35"/><circle cx="426" cy="234.5" r="1.35"/><circle cx="421.4" cy="232.8" r="1.35"/><circle cx="421.4" cy="238" r="1.35"/><circle cx="430.8" cy="236.8" r="1.35"/><circle cx="440.7" cy="238" r="1.35"/><circle cx="454.9" cy="226.3" r="1.35"/><circle cx="454.9" cy="227.4" r="1.35"/><circle cx="454.9" cy="228.5" r="1.35"/><circle cx="454.9" cy="235.5" r="1.35"/><circle cx="454.9" cy="237" r="1.35"/><circle cx="454.9" cy="238.5" r="1.35"/><circle cx="454.9" cy="240" r="1.35"/><circle cx="454.9" cy="241.2" r="1.35"/><circle cx="465" cy="220" r="1.35"/><circle cx="465" cy="229.1" r="1.35"/><circle cx="470.2" cy="233.8" r="1.35"/><circle cx="473.9" cy="204.3" r="1.35"/><circle cx="473.9" cy="211.6" r="1.35"/><circle cx="473.9" cy="228.7" r="1.35"/><circle cx="473.9" cy="230.8" r="1.35"/><circle cx="473.9" cy="239.3" r="1.35"/><circle cx="473.9" cy="242.7" r="1.35"/><circle cx="449.9" cy="249" r="1.35"/><circle cx="449.9" cy="252.5" r="1.35"/><circle cx="449.9" cy="271.6" r="1.35"/><circle cx="449.9" cy="272.6" r="1.35"/><circle cx="455" cy="278.9" r="1.35"/><circle cx="459.9" cy="251.2" r="1.35"/><circle cx="459.9" cy="260.2" r="1.35"/><circle cx="459.9" cy="264.6" r="1.35"/><circle cx="459.9" cy="272" r="1.35"/><circle cx="459.9" cy="273.4" r="1.35"/><circle cx="459.9" cy="282" r="1.35"/><circle cx="469.8" cy="249.4" r="1.35"/><circle cx="469.8" cy="265.8" r="1.35"/><circle cx="469.8" cy="267.6" r="1.35"/><circle cx="474.1" cy="256.4" r="1.35"/><circle cx="474.1" cy="258.7" r="1.35"/><circle cx="469.7" cy="291.3" r="1.35"/><circle cx="455.1" cy="299.4" r="1.35"/><circle cx="527.6" cy="193.1" r="1.35"/><circle cx="527.6" cy="200" r="1.35"/><circle cx="484" cy="211.5" r="1.35"/><circle cx="484" cy="213" r="1.35"/><circle cx="489.1" cy="217.4" r="1.35"/><circle cx="498.2" cy="206.5" r="1.35"/><circle cx="498.2" cy="209.9" r="1.35"/><circle cx="498.2" cy="216.6" r="1.35"/><circle cx="498.2" cy="217.6" r="1.35"/><circle cx="503.3" cy="224.4" r="1.35"/><circle cx="498.2" cy="228.7" r="1.35"/><circle cx="484" cy="225.3" r="1.35"/><circle cx="484" cy="228.2" r="1.35"/><circle cx="484.1" cy="241.3" r="1.35"/><circle cx="484.1" cy="242.3" r="1.35"/><circle cx="498.2" cy="237.2" r="1.35"/><circle cx="498.2" cy="238" r="1.35"/><circle cx="493.8" cy="244.1" r="1.35"/><circle cx="498.2" cy="243.5" r="1.35"/><circle cx="484.1" cy="248.3" r="1.35"/><circle cx="493.8" cy="246.5" r="1.35"/><circle cx="493.8" cy="248" r="1.35"/><circle cx="493.8" cy="249.5" r="1.35"/><circle cx="498.2" cy="249" r="1.35"/><circle cx="518.2" cy="246.6" r="1.35"/><circle cx="518.2" cy="247.4" r="1.35"/><circle cx="518.2" cy="254.5" r="1.35"/><circle cx="518.2" cy="260.4" r="1.35"/><circle cx="484.1" cy="253.8" r="1.35"/><circle cx="484.1" cy="258.9" r="1.35"/><circle cx="484.1" cy="259.7" r="1.35"/><circle cx="484.1" cy="260.7" r="1.35"/><circle cx="488.8" cy="268.3" r="1.35"/><circle cx="493.8" cy="268.3" r="1.35"/><circle cx="488.8" cy="276.6" r="1.35"/><circle cx="488.8" cy="280.7" r="1.35"/><circle cx="488.8" cy="281.5" r="1.35"/><circle cx="488.8" cy="285.3" r="1.35"/><circle cx="493.8" cy="279.3" r="1.35"/><circle cx="489" cy="291.3" r="1.35"/><circle cx="483.9" cy="296.1" r="1.35"/><circle cx="449.9" cy="256.8" r="1.35"/><circle cx="449.9" cy="258.04" r="1.35"/><circle cx="449.9" cy="259.29" r="1.35"/><circle cx="449.9" cy="260.53" r="1.35"/><circle cx="449.9" cy="261.77" r="1.35"/><circle cx="449.9" cy="263.01" r="1.35"/><circle cx="449.9" cy="264.26" r="1.35"/><circle cx="449.9" cy="265.5" r="1.35"/><circle cx="454.9" cy="247.8" r="1.35"/><circle cx="454.9" cy="249.64" r="1.35"/><circle cx="454.9" cy="251.48" r="1.35"/><circle cx="454.9" cy="253.32" r="1.35"/><circle cx="454.9" cy="255.15" r="1.35"/><circle cx="454.9" cy="256.99" r="1.35"/><circle cx="454.9" cy="258.83" r="1.35"/><circle cx="454.9" cy="260.67" r="1.35"/><circle cx="454.9" cy="262.51" r="1.35"/><circle cx="454.9" cy="264.35" r="1.35"/><circle cx="454.9" cy="266.18" r="1.35"/><circle cx="454.9" cy="268.02" r="1.35"/><circle cx="454.9" cy="269.86" r="1.35"/><circle cx="454.9" cy="271.7" r="1.35"/><circle cx="484" cy="264.5" r="1.35"/><circle cx="484" cy="265.79" r="1.35"/><circle cx="484" cy="267.08" r="1.35"/><circle cx="484" cy="268.37" r="1.35"/><circle cx="484" cy="269.66" r="1.35"/><circle cx="484" cy="270.94" r="1.35"/><circle cx="484" cy="272.23" r="1.35"/><circle cx="484" cy="273.52" r="1.35"/><circle cx="484" cy="274.81" r="1.35"/><circle cx="484" cy="276.1" r="1.35"/><circle cx="484" cy="282.8" r="1.35"/><circle cx="484" cy="284.5" r="1.35"/><circle cx="484" cy="286.5" r="1.35"/><circle cx="484" cy="288.5" r="1.35"/><circle cx="484" cy="290.5" r="1.35"/><circle cx="484" cy="292" r="1.35"/></g>
</svg></body></html>
